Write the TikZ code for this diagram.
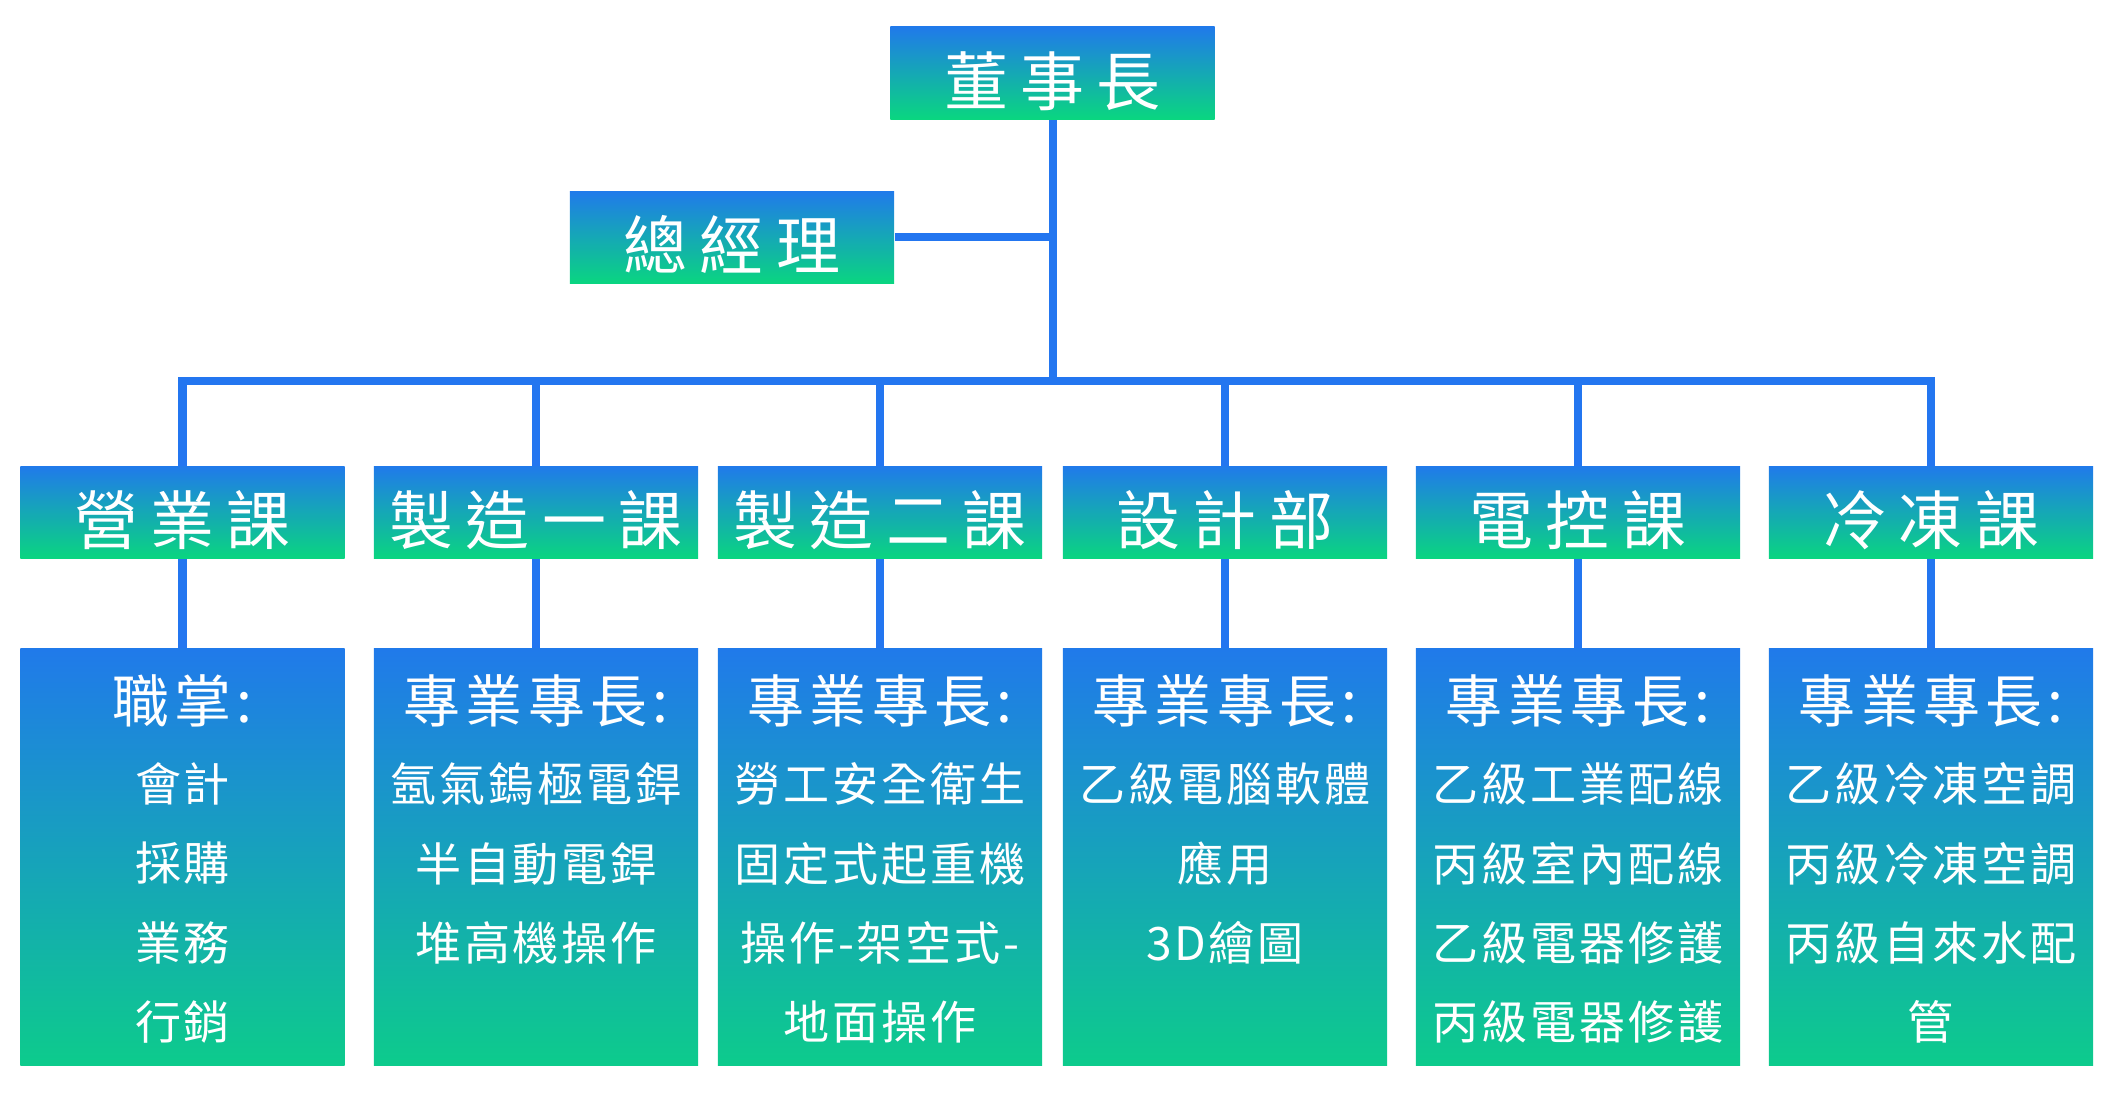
\documentclass[tikz,border=0pt]{standalone}
\usepackage{fontspec}
\setmainfont{Noto Sans CJK TC}
\newfontfamily\leadfam[LetterSpace=19]{Noto Sans CJK TC}
\newfontfamily\cardheadfam[LetterSpace=9]{Noto Sans CJK TC}
\newfontfamily\carditemfam[LetterSpace=6]{Noto Sans CJK TC}
\newcommand\leadfont{\leadfam\fontsize{18.2}{20}\selectfont}
\newcommand\cardhead{\cardheadfam\fontsize{16.2}{22.5}\selectfont}
\newcommand\carditem{\carditemfam\fontsize{13.1}{22.5}\selectfont}
\usetikzlibrary{positioning,backgrounds}
\definecolor{topblue}{RGB}{32,122,234}
\definecolor{headgreen}{RGB}{10,214,128}
\definecolor{cardgreen}{RGB}{13,203,140}
\definecolor{linkblue}{RGB}{35,118,240}

\begin{document}
\begin{tikzpicture}[x=0.01cm, y=-0.01cm,
  link/.style={draw=linkblue, line width=0.08cm},
  lead/.style={top color=topblue, bottom color=headgreen, text=white,
               minimum width=3.24cm, minimum height=0.92cm, inner sep=0pt,
               text height=20.6pt, text depth=2.2pt, font=\leadfont},
  card/.style={top color=topblue, bottom color=cardgreen,
               minimum width=3.24cm, minimum height=4.16cm, inner sep=0pt},
  cardtext/.style={text=white, align=center, inner sep=0pt, anchor=north,
                   font=\carditem}]

\useasboundingbox (0,0) rectangle (2124,1107);

% Top
\node[lead] (boss) at (1052.5,73) {董事長};
\node[lead] (gm) at (732,237.5) {總經理};

% Departments
\node[lead] (sales)  at (182.5,512.5) {營業課};
\node[lead] (mfg1)   at (536,512.5)   {製造一課};
\node[lead] (mfg2)   at (880,512.5)   {製造二課};
\node[lead] (design) at (1225,512.5)  {設計部};
\node[lead] (elec)   at (1578,512.5)  {電控課};
\node[lead] (cool)   at (1931,512.5)  {冷凍課};

% Cards
\node[card] (sales-card)  at (182.5,857) {};
\node[card] (mfg1-card)   at (536,857)   {};
\node[card] (mfg2-card)   at (880,857)   {};
\node[card] (design-card) at (1225,857)  {};
\node[card] (elec-card)   at (1578,857)  {};
\node[card] (cool-card)   at (1931,857)  {};

\node[cardtext] (sales-text) at ([yshift=-0.26cm]sales-card.north)
  {{\cardhead 職掌:}\\會計\\採購\\業務\\行銷};
\node[cardtext] (mfg1-text) at ([yshift=-0.26cm]mfg1-card.north)
  {{\cardhead 專業專長:}\\氬氣鎢極電銲\\半自動電銲\\堆高機操作};
\node[cardtext] (mfg2-text) at ([yshift=-0.26cm]mfg2-card.north)
  {{\cardhead 專業專長:}\\勞工安全衛生\\固定式起重機\\操作-架空式-\\地面操作};
\node[cardtext] (design-text) at ([yshift=-0.26cm]design-card.north)
  {{\cardhead 專業專長:}\\乙級電腦軟體\\應用\\3D繪圖};
\node[cardtext] (elec-text) at ([yshift=-0.26cm]elec-card.north)
  {{\cardhead 專業專長:}\\乙級工業配線\\丙級室內配線\\乙級電器修護\\丙級電器修護};
\node[cardtext] (cool-text) at ([yshift=-0.26cm]cool-card.north)
  {{\cardhead 專業專長:}\\乙級冷凍空調\\丙級冷凍空調\\丙級自來水配\\管};

% Connectors
\coordinate (bus) at (1052.5,381);
\begin{scope}[on background layer]
  \draw[link] (boss.south) -- (boss.south |- bus);
  \draw[link] (gm.east) -- (gm.east -| boss.south);
  \draw[link] (sales) -- (sales.north |- bus) -- (cool.north |- bus) -- (cool);
  \foreach \d in {mfg1,mfg2,design,elec}
    \draw[link] (\d.north |- bus) -- (\d);
  \foreach \d in {sales,mfg1,mfg2,design,elec,cool}
    \draw[link] (\d) -- (\d-card);
\end{scope}

\end{tikzpicture}
\end{document}
